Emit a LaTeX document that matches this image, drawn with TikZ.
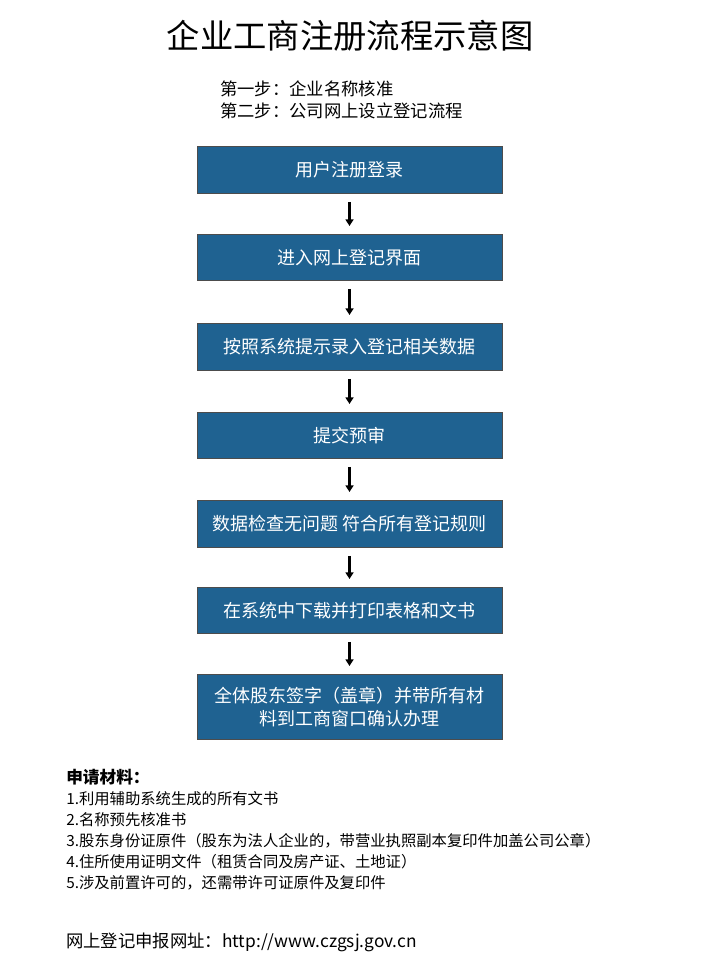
\documentclass[tikz,border=0pt]{standalone}
\usepackage{fontspec}
\setmainfont{Noto Sans CJK SC}
\usetikzlibrary{arrows.meta}
\tikzset{
  stepbox/.style={draw=black!70,fill={rgb,255:red,31;green,98;blue,145},text=white,minimum width=228.75pt,anchor=north,font=\fontsize{13.5}{17}\selectfont,align=center,line width=0.6pt},
  flow/.style={-{Triangle[length=5pt,width=6pt]},line width=1.6pt,shorten <=6pt,shorten >=6pt},
  txt/.style={anchor=west,inner sep=0pt,font=\fontsize{11.5}{14}\selectfont}
}
\begin{document}
\begin{tikzpicture}[x=0.75pt,y=-0.75pt]
\useasboundingbox (0,0) rectangle (700,969);
\node (title) at (350,36) {\fontsize{25}{30}\selectfont 企业工商注册流程示意图};
\node[txt,font=\fontsize{13}{16}\selectfont] (s1) at (220,89) {第一步：企业名称核准};
\node[txt,font=\fontsize{13}{16}\selectfont] (s2) at (220,111) {第二步：公司网上设立登记流程};
\node[stepbox,minimum height=35.25pt] (b1) at (349.5,146) {用户注册登录};
\node[stepbox,minimum height=34.5pt] (b2) at (349.5,234) {进入网上登记界面};
\node[stepbox,minimum height=35.25pt] (b3) at (349.5,323) {按照系统提示录入登记相关数据};
\node[stepbox,minimum height=34.5pt] (b4) at (349.5,412) {提交预审};
\node[stepbox,minimum height=35.25pt] (b5) at (349.5,500) {数据检查无问题 符合所有登记规则};
\node[stepbox,minimum height=34.5pt] (b6) at (349.5,587) {在系统中下载并打印表格和文书};
\node[stepbox,minimum height=48.75pt] (b7) at (349.5,674) {全体股东签字（盖章）并带所有材\\料到工商窗口确认办理};
\foreach \a/\b in {b1/b2,b2/b3,b3/b4,b4/b5,b5/b6,b6/b7}
  \draw[flow] (\a.south) -- (\b.north);
\node[txt,font=\bfseries\fontsize{12.5}{15}\selectfont] (m0) at (66,777) {申请材料：};
\node[txt] (m1) at (66,799) {1.利用辅助系统生成的所有文书};
\node[txt] (m2) at (66,820) {2.名称预先核准书};
\node[txt] (m3) at (66,841) {3.股东身份证原件（股东为法人企业的，带营业执照副本复印件加盖公司公章）};
\node[txt] (m4) at (66,862) {4.住所使用证明文件（租赁合同及房产证、土地证）};
\node[txt] (m5) at (66,883) {5.涉及前置许可的，还需带许可证原件及复印件};
\node[txt,font=\fontsize{13}{16}\selectfont] (url) at (66,942) {网上登记申报网址：http://www.czgsj.gov.cn};
\end{tikzpicture}
\end{document}
